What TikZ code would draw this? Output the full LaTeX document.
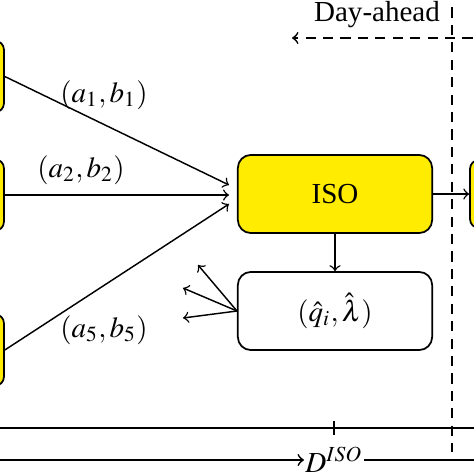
\documentclass[tikz,border=0pt]{standalone}
\usepackage{mathptmx}
\usepackage{fontspec}
\setmainfont{Liberation Serif}
\usetikzlibrary{calc}
\definecolor{isoyellow}{RGB}{255,236,0}

\begin{document}
\begin{tikzpicture}[scale=0.121]
		\tikzstyle{every node}+=[inner sep=0pt]
		\tikzset{
			bigbox/.style={draw, line width=0.6pt, rounded corners=4.5pt, minimum width=66.9pt, minimum height=26.9pt},
			sidebox/.style={draw, line width=0.6pt, fill=isoyellow, rounded corners=3pt, minimum width=27.5pt, minimum height=24.5pt},
			flow/.style={->, line width=0.5pt},
			cut/.style={line width=0.6pt, dash pattern=on 3.5pt off 2.5pt}
		}
		\clip (0,0) rectangle (47.4,-47.4);
		% bidders on the left
		\node [sidebox] (s1) at (-3.6,-7.65) {};
		\node [sidebox] (s2) at (-3.6,-19.5) {};
		\node [sidebox] (s5) at (-3.6,-35.0) {};
		% market operator and its result
		\node [bigbox, fill=isoyellow] (iso) at (33.5,-19.4) {ISO};
		\node [bigbox, fill=white] (res) at (33.5,-31.1) {$(\hat{q}_i,\hat{\lambda})$};
		\node [sidebox, minimum height=23.4pt] (next) at (51.0,-19.4) {};
		% offers
		\coordinate (in1) at (22.9,-18.5);
		\coordinate (in2) at (22.9,-19.5);
		\coordinate (in5) at (22.9,-20.4);
		\draw [flow] (s1.east) -- (in1);
		\draw [flow] (s2.east) -- (in2);
		\draw [flow] (s5.east) -- (in5);
		\node (o1) at (10.4,-9.5) {$(a_1,b_1)$};
		\node (o2) at (8.1,-17.0) {$(a_2,b_2)$};
		\node (o5) at (10.4,-33.0) {$(a_5,b_5)$};
		\draw [flow] (iso.east) -- (next.west);
		\draw [flow] (iso.south) -- (res.north);
		% results sent back
		\coordinate (r1) at (19.8,-26.5);
		\coordinate (r2) at (18.3,-28.8);
		\coordinate (r3) at (18.3,-31.8);
		\draw [flow] (res.west) -- (r1);
		\draw [flow] (res.west) -- (r2);
		\draw [flow] (res.west) -- (r3);
		% day-ahead stage
		\coordinate (vt) at (45.2,1);
		\coordinate (vb) at (45.2,-45.2);
		\draw [cut] (vt) -- (vb);
		\coordinate (da) at (49,-3.8);
		\coordinate (db) at (29.2,-3.8);
		\draw [cut, ->] (da) -- (db);
		\node (dah) at (37.7,-1.5) {Day-ahead};
		% time line
		\coordinate (t0) at (-1,-42.8);
		\coordinate (t1) at (49,-42.8);
		\coordinate (tk) at (33.4,-42.8);
		\draw [line width=0.9pt] (t0) -- (t1);
		\draw [line width=0.9pt] ($(tk)+(0,0.7)$) -- ($(tk)+(0,-0.7)$);
		\node [inner sep=0.3pt] (dso) at (33.4,-46.0) {$D^{ISO}$};
		\coordinate (u0) at (-1,-46.0);
		\coordinate (u1) at (49,-46.0);
		\draw [flow, line width=0.6pt] (u0) -- (dso.west);
		\draw [line width=0.6pt] (dso.east) -- (u1);
	\end{tikzpicture}
\end{document}
